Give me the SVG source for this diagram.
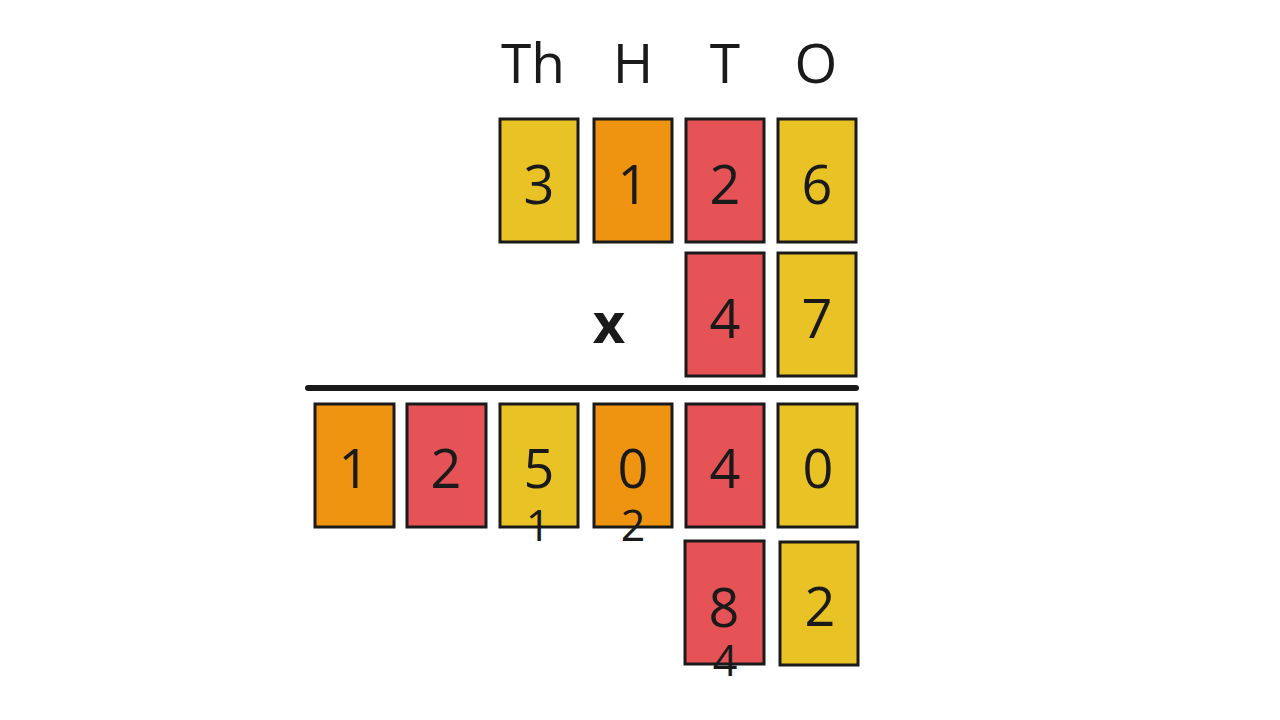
<svg xmlns="http://www.w3.org/2000/svg" width="1280" height="720" viewBox="0 0 1280 720">
<style>
.card{stroke:#1a1a1a;stroke-width:3}
.y{fill:#E9C325}
.o{fill:#EF9410}
.r{fill:#E55356}
.t{font-family:"Open Sans","Liberation Sans",sans-serif;fill:#1a1a1a;text-anchor:middle}
.d{font-size:54px}
.h{font-size:55px}
.c{font-size:43px}
</style>
<rect width="1280" height="720" fill="#ffffff"/>
<g id="headers">
<text class="t h" x="533" y="83">Th</text>
<text class="t h" x="633" y="83">H</text>
<text class="t h" x="725" y="83">T</text>
<text class="t h" x="816" y="83">O</text>
</g>
<g id="row1">
<rect class="card y" x="500" y="119" width="78" height="123"/><text class="t d" x="539" y="204">3</text>
<rect class="card o" x="594" y="119" width="78" height="123"/><text class="t d" x="633" y="204">1</text>
<rect class="card r" x="686" y="119" width="78" height="123"/><text class="t d" x="725" y="204">2</text>
<rect class="card y" x="778" y="119" width="78" height="123"/><text class="t d" x="817" y="204">6</text>
</g>
<g id="row2">
<text class="t" x="609" y="343" style="font-size:56px;font-weight:bold">x</text>
<rect class="card r" x="686" y="253" width="78" height="123"/><text class="t d" x="725" y="338">4</text>
<rect class="card y" x="778" y="253" width="78" height="123"/><text class="t d" x="817" y="338">7</text>
</g>
<g id="line">
<line x1="308" y1="388" x2="856" y2="388" stroke="#1a1a1a" stroke-width="6" stroke-linecap="round"/>
</g>
<g id="row3">
<rect class="card o" x="315" y="404" width="79" height="123"/><text class="t d" x="354" y="488">1</text>
<rect class="card r" x="407" y="404" width="79" height="123"/><text class="t d" x="446" y="488">2</text>
<rect class="card y" x="500" y="404" width="78" height="123"/><text class="t d" x="539" y="488">5</text>
<rect class="card o" x="594" y="404" width="78" height="123"/><text class="t d" x="633" y="488">0</text>
<rect class="card r" x="686" y="404" width="78" height="123"/><text class="t d" x="725" y="488">4</text>
<rect class="card y" x="778" y="404" width="79" height="123"/><text class="t d" x="818" y="488">0</text>
<text class="t c" x="538" y="541">1</text>
<text class="t c" x="633" y="541">2</text>
</g>
<g id="row4">
<rect class="card r" x="685" y="541" width="79" height="123"/><text class="t d" x="724" y="627">8</text>
<rect class="card y" x="780" y="542" width="78" height="123"/><text class="t d" x="820" y="626">2</text>
<text class="t c" x="725" y="676">4</text>
</g>
</svg>
